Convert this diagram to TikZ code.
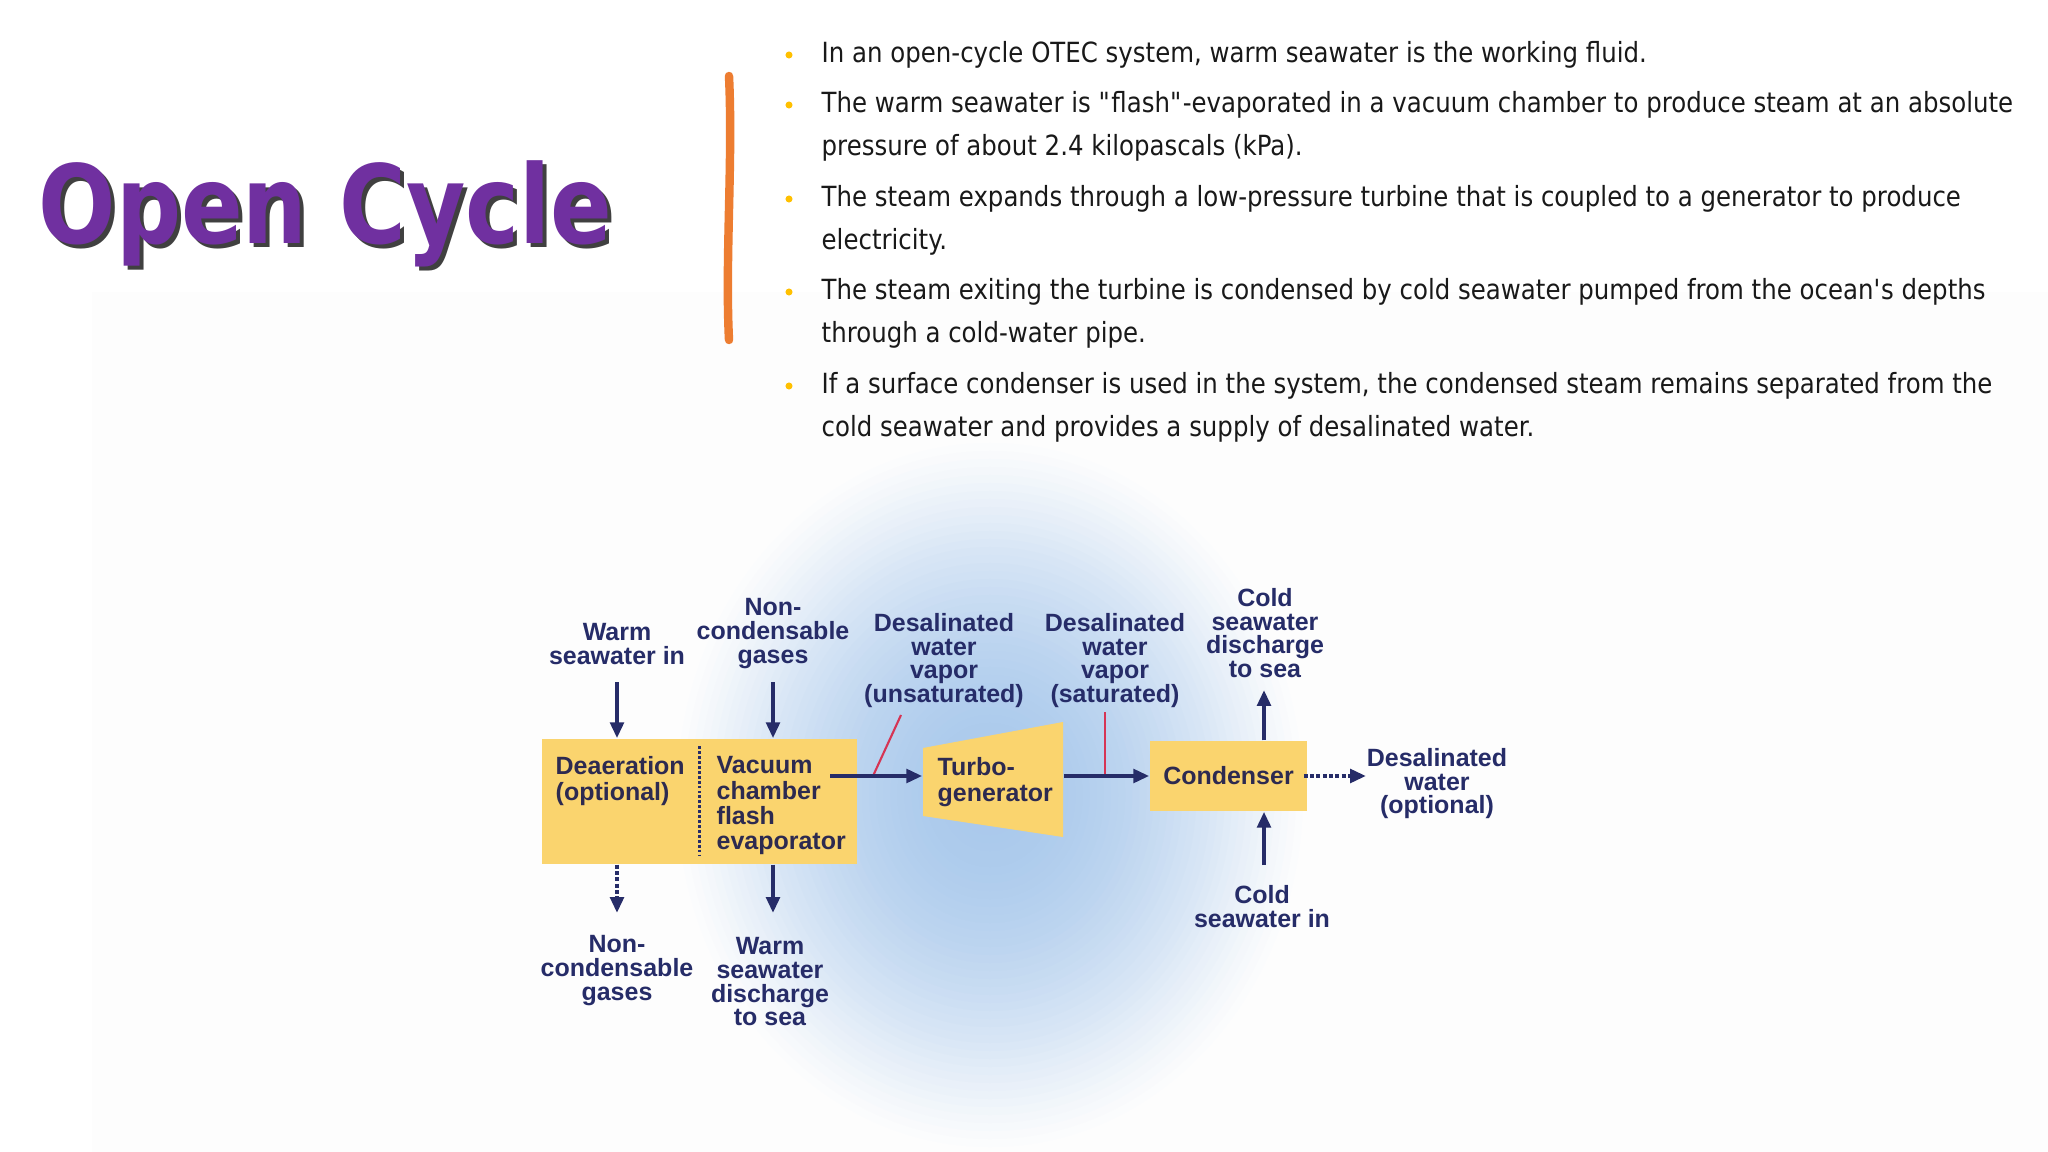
\documentclass[tikz,border=0pt]{standalone}
\usepackage{fontspec}
\setmainfont{DejaVu Sans}[FakeStretch=0.88]
\newfontfamily\titlefont{DejaVu Sans}[FakeStretch=0.835]
\newfontfamily\figfont{Liberation Sans}
\usetikzlibrary{arrows.meta}

\definecolor{titlepurple}{RGB}{112,48,160}
\definecolor{barorange}{RGB}{237,125,49}
\definecolor{bulletgold}{RGB}{255,192,0}
\definecolor{boxyellow}{RGB}{250,212,110}
\definecolor{navy}{RGB}{38,44,104}
\definecolor{boxink}{RGB}{45,42,80}
\definecolor{vaporred}{RGB}{214,52,84}
\definecolor{glowblue}{RGB}{162,196,234}
\definecolor{panelgray}{RGB}{253,253,253}

\tikzset{
  para/.style={anchor=north west, inner sep=0pt, align=left, text=black!90,
    font=\fontsize{7.9}{12.2}\selectfont},
  bulletdot/.style={circle, fill=bulletgold, inner sep=0pt, minimum size=2pt},
  unitbox/.style={fill=boxyellow, inner sep=0pt},
  lbl/.style={anchor=north, inner sep=0pt, align=center, text=navy,
    font=\figfont\bfseries\fontsize{7.1}{6.7}\selectfont},
  boxtxt/.style={anchor=north west, inner sep=0pt, align=left, text=boxink,
    font=\figfont\bfseries\fontsize{7.1}{7.2}\selectfont},
  flow/.style={navy, line width=1.2pt, -{Triangle[length=4.5pt,width=3.8pt]}},
  optflow/.style={flow, dash pattern=on 1.1pt off 0.7pt},
  divider/.style={navy, line width=1pt, dash pattern=on 0.8pt off 0.6pt},
  vapor/.style={vaporred, line width=0.6pt},
}

\begin{document}
\begin{tikzpicture}[x=0.01cm, y=-0.01cm]
\useasboundingbox (0,0) rectangle (2048,1152);
\fill[white] (0,0) rectangle (2048,1152);
\fill[panelgray] (92,292) rectangle (2048,1152);
% soft blue glow behind the diagram
\foreach \i in {0,...,44}{
  \pgfmathsetmacro{\r}{1-\i/45}
  \pgfmathsetmacro{\pct}{92*(1-\r*\r)^1.25}
  \fill[glowblue!\pct!panelgray] (990,795) ellipse [x radius=320*\r, y radius=360*\r];
}

% title and bar
\node[anchor=base west, inner sep=0pt, text=black!75,
  font=\titlefont\bfseries\fontsize{31}{31}\selectfont] (titleshadow) at (42,248) {Open Cycle};
\node[anchor=base west, inner sep=0pt, text=titlepurple,
  font=\titlefont\bfseries\fontsize{31}{31}\selectfont] (title) at (38,244) {Open Cycle};
\draw[barorange, line width=2.4pt, line cap=round] (729,76) .. controls (733,160) and (725,260) .. (729,340);

% bullet points
\node[bulletdot] (b1) at (789,55) {};
\node[para] (p1) at (821,41) {In an open-cycle OTEC system, warm seawater is the working fluid.};
\node[bulletdot] (b2) at (789,105) {};
\node[para] (p2) at (821,91) {The warm seawater is \textquotedbl flash\textquotedbl-evaporated in a vacuum chamber to produce steam at an absolute\\pressure of about 2.4 kilopascals (kPa).};
\node[bulletdot] (b3) at (789,199) {};
\node[para] (p3) at (821,185) {The steam expands through a low-pressure turbine that is coupled to a generator to produce\\electricity.};
\node[bulletdot] (b4) at (789,292) {};
\node[para] (p4) at (821,278) {The steam exiting the turbine is condensed by cold seawater pumped from the ocean\textquotesingle s depths\\through a cold-water pipe.};
\node[bulletdot] (b5) at (789,386) {};
\node[para] (p5) at (821,372) {If a surface condenser is used in the system, the condensed steam remains separated from the\\cold seawater and provides a supply of desalinated water.};

% units
\node[unitbox, minimum width=3.15cm, minimum height=1.25cm] (evap) at (699.5,801.5) {};
\draw[divider] ([yshift=-0.08cm]evap.north) -- ([yshift=0.09cm]evap.south);
\node[boxtxt] (deaer) at (555,756) {Deaeration\\(optional)};
\node[boxtxt] (vac) at (716,756) {Vacuum\\chamber\\flash\\evaporator};

\fill[boxyellow] (923,748) -- (1063,722) -- (1063,837) -- (923,816) -- cycle;
\node[minimum width=1.4cm, minimum height=0.6cm, inner sep=0pt] (turbine) at (993,776) {};
\node[boxtxt] (turbtxt) at (937,757) {Turbo-\\generator};

\node[unitbox, minimum width=1.57cm, minimum height=0.7cm, text=boxink,
  font=\figfont\bfseries\fontsize{7.1}{7.2}\selectfont] (cond) at (1228.5,776) {Condenser};

% labels
\node[lbl] (wsin) at (617,623) {Warm\\seawater in};
\node[lbl] (ncgin) at (773,598) {Non-\\condensable\\gases};
\node[lbl] (dvu) at (944,613) {Desalinated\\water\\vapor\\(unsaturated)};
\node[lbl] (dvs) at (1115,613) {Desalinated\\water\\vapor\\(saturated)};
\node[lbl] (cwout) at (1265,588) {Cold\\seawater\\discharge\\to sea};
\node[lbl] (cwin) at (1262,885) {Cold\\seawater in};
\node[lbl] (dwout) at (1437,748) {Desalinated\\water\\(optional)};
\node[lbl] (ncgout) at (617,935) {Non-\\condensable\\gases};
\node[lbl] (wsout) at (770,937) {Warm\\seawater\\discharge\\to sea};

% vapour ticks
\coordinate (unsatfoot) at (873,776);
\coordinate (unsattop) at (901,715);
\draw[vapor] (unsatfoot) -- (unsattop);
\coordinate (satfoot) at (1105,776);
\coordinate (sattop) at (1105,712);
\draw[vapor] (satfoot) -- (sattop);

% flows
\coordinate (wsinarr) at (617,682);
\draw[flow] (wsinarr) -- (wsinarr |- evap.north);
\coordinate (ncginarr) at (773,682);
\draw[flow] (ncginarr) -- (ncginarr |- evap.north);
\coordinate (ncgoutarr) at (617,913);
\draw[optflow] (ncgoutarr |- evap.south) -- (ncgoutarr);
\coordinate (wsoutarr) at (773,913);
\draw[flow] (wsoutarr |- evap.south) -- (wsoutarr);
\coordinate (vapstart) at (830,776);
\draw[flow] (vapstart) -- (turbine.west);
\draw[flow] (turbine.east) -- (cond.west);
\coordinate (cwoutarr) at (1264,690);
\draw[flow] (cwoutarr |- cond.north) -- (cwoutarr);
\coordinate (cwinarr) at (1264,865);
\draw[flow] (cwinarr) -- (cwinarr |- cond.south);
\coordinate (dwarr) at (1366,776);
\draw[optflow] ([xshift=-0.04cm]cond.east) -- (dwarr);
\end{tikzpicture}
\end{document}
